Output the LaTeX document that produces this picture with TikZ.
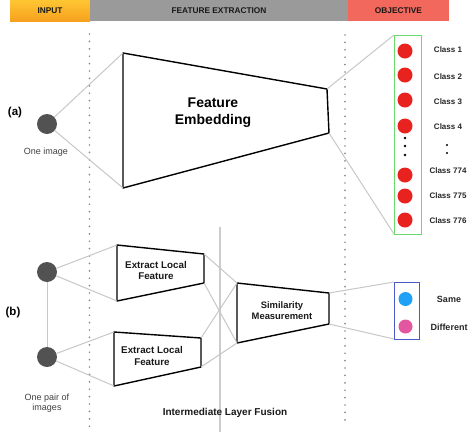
\documentclass[tikz,border=0pt]{standalone}
\usepackage{fontspec}
\setmainfont{Liberation Sans}
\begin{document}
\begin{tikzpicture}[x=1pt,y=-1pt,
  hdr/.style={font=\fontsize{8.3}{9}\selectfont\bfseries, text=black!90},
  trap/.style={draw=black, line width=1.4pt, line join=round},
  conn/.style={draw=black!22, line width=1pt},
  dotline/.style={draw=black!45, line width=1.9pt, line cap=round, dash pattern=on 0pt off 7.4pt},
  img/.style={circle, fill=black!68, minimum size=20pt, inner sep=0pt},
  cls/.style={circle, minimum size=15pt, inner sep=0pt},
  clabel/.style={font=\fontsize{8}{9}\selectfont\bfseries, text=black!85},
  boxlabel/.style={font=\fontsize{9.8}{11.5}\selectfont\bfseries, align=center, text=black!90},
  captext/.style={font=\fontsize{9}{10.5}\selectfont, text=black!75, align=center},
  tagtext/.style={font=\fontsize{11.5}{13}\selectfont\bfseries}
]
\useasboundingbox (0,0) rectangle (474,437);
\definecolor{hdrorangetop}{HTML}{FFC633}
\definecolor{hdrorangebot}{HTML}{F6A11E}
\definecolor{hdrgrey}{HTML}{9A9A9A}
\definecolor{hdrred}{HTML}{F2685C}
\definecolor{clsred}{HTML}{E8231F}
\definecolor{sameblue}{HTML}{1FA2F5}
\definecolor{diffpink}{HTML}{E2579F}
\definecolor{boxgreen}{HTML}{6ADB6A}
\definecolor{boxblue}{HTML}{4A5BC9}

% header
\shade[top color=hdrorangetop, bottom color=hdrorangebot] (10,0) rectangle (90,21);
\fill[hdrgrey] (90,0) rectangle (348,21);
\fill[hdrred] (348,0) rectangle (449,21);
\node[hdr] (hin) at (50,10.5) {INPUT};
\node[hdr] (hfe) at (219,10.5) {FEATURE EXTRACTION};
\node[hdr] (hob) at (398.5,10.5) {OBJECTIVE};

% dotted separators
\draw[dotline] (89.5,34) -- (89.5,430);
\draw[dotline] (345,35) -- (345,423);
% intermediate fusion line
\draw[draw=black!20, line width=2pt] (220,227) -- (220,432);

% ---------- (a) ----------
\node[tagtext] (ta) at (15,113) {(a)};
\node[img] (one) at (47,124) {};
\node[captext] (onecap) at (46,152) {One image};

\coordinate (fe1) at (123,53);
\coordinate (fe2) at (327,89);
\coordinate (fe3) at (329,133);
\coordinate (fe4) at (123,188);
\draw[trap] (fe1) -- (fe2) -- (fe3) -- (fe4) -- cycle;
\node[font=\fontsize{14}{17}\selectfont\bfseries, align=center] (fe) at (213,113) {Feature\\Embedding};

% green class box
\coordinate (gb1) at (394,35);
\coordinate (gb2) at (421,35);
\coordinate (gb3) at (421,234);
\coordinate (gb4) at (394,234);
\draw[draw=boxgreen, line width=1pt] (gb1) -- (gb2) -- (gb3) -- (gb4) -- cycle;

\draw[conn] (one) -- (fe1);
\draw[conn] (one) -- (fe4);
\draw[conn] (fe2) -- (gb1);
\draw[conn] (fe3) -- (gb4);

\foreach \n/\y in {c1/51,c2/75,c3/100,c4/126,c774/175,c775/196,c776/220}{
  \node[cls, fill=clsred] (\n) at (405,\y) {};
}
\foreach \n/\y in {d1/138,d2/146,d3/155}{
  \node[circle, fill=black, minimum size=2.6pt, inner sep=0pt] (\n) at (405,\y) {};
}
\node[clabel] (l1) at (448,50) {Class 1};
\node[clabel] (l2) at (448,77) {Class 2};
\node[clabel] (l3) at (448,101.5) {Class 3};
\node[clabel] (l4) at (448,127) {Class 4};
\node[circle, fill=black, minimum size=2.4pt, inner sep=0pt] (e1) at (447,145) {};
\node[circle, fill=black, minimum size=2.4pt, inner sep=0pt] (e2) at (447,153) {};
\node[clabel] (l774) at (448,171) {Class 774};
\node[clabel] (l775) at (448,196) {Class 775};
\node[clabel] (l776) at (448,220.5) {Class 776};

% ---------- (b) ----------
\node[tagtext] (tb) at (13,313) {(b)};
\node[img] (pa) at (47,272) {};
\node[img] (pb) at (47,357) {};
\draw[conn] (pa) -- (pb);
\node[captext] (paircap) at (47,403) {One pair of\\images};

\coordinate (u1) at (117,245);
\coordinate (u2) at (204,254);
\coordinate (u3) at (204,283);
\coordinate (u4) at (117,301);
\draw[trap] (u1) -- (u2) -- (u3) -- (u4) -- cycle;
\node[boxlabel] (ul) at (156,270.5) {Extract Local\\Feature};

\coordinate (w1) at (114,332);
\coordinate (w2) at (201,338);
\coordinate (w3) at (201,367);
\coordinate (w4) at (114,386);
\draw[trap] (w1) -- (w2) -- (w3) -- (w4) -- cycle;
\node[boxlabel] (wl) at (152,356) {Extract Local\\Feature};

\coordinate (s1) at (237,283);
\coordinate (s2) at (329,293);
\coordinate (s3) at (329,324);
\coordinate (s4) at (237,343);
\draw[trap] (s1) -- (s2) -- (s3) -- (s4) -- cycle;
\node[boxlabel, font=\fontsize{9.4}{11.5}\selectfont\bfseries] (sl) at (282,310.5) {Similarity\\Measurement};

\draw[conn] (pa) -- (u1);
\draw[conn] (pa) -- (u4);
\draw[conn] (pb) -- (w1);
\draw[conn] (pb) -- (w4);
\draw[conn] (u2) -- (s1);
\draw[conn] (w2) -- (s1);
\draw[conn] (u3) -- (s4);
\draw[conn] (w3) -- (s4);

\coordinate (bb1) at (394,282);
\coordinate (bb2) at (419,282);
\coordinate (bb3) at (419,339);
\coordinate (bb4) at (394,339);
\draw[draw=boxblue, line width=1pt] (bb1) -- (bb2) -- (bb3) -- (bb4) -- cycle;
\draw[conn] (s2) -- (bb1);
\draw[conn] (s3) -- (bb4);
\node[circle, fill=sameblue, minimum size=14pt, inner sep=0pt] (same) at (405.5,299) {};
\node[circle, fill=diffpink, minimum size=14pt, inner sep=0pt] (diff) at (405.5,326.5) {};
\node[clabel, font=\fontsize{9}{10}\selectfont\bfseries] (lsame) at (449,299) {Same};
\node[clabel, font=\fontsize{9}{10}\selectfont\bfseries] (ldiff) at (449,327) {Different};

\node[font=\fontsize{10}{12}\selectfont\bfseries, text=black!90] (ilf) at (225,413) {Intermediate Layer Fusion};
\end{tikzpicture}
\end{document}
